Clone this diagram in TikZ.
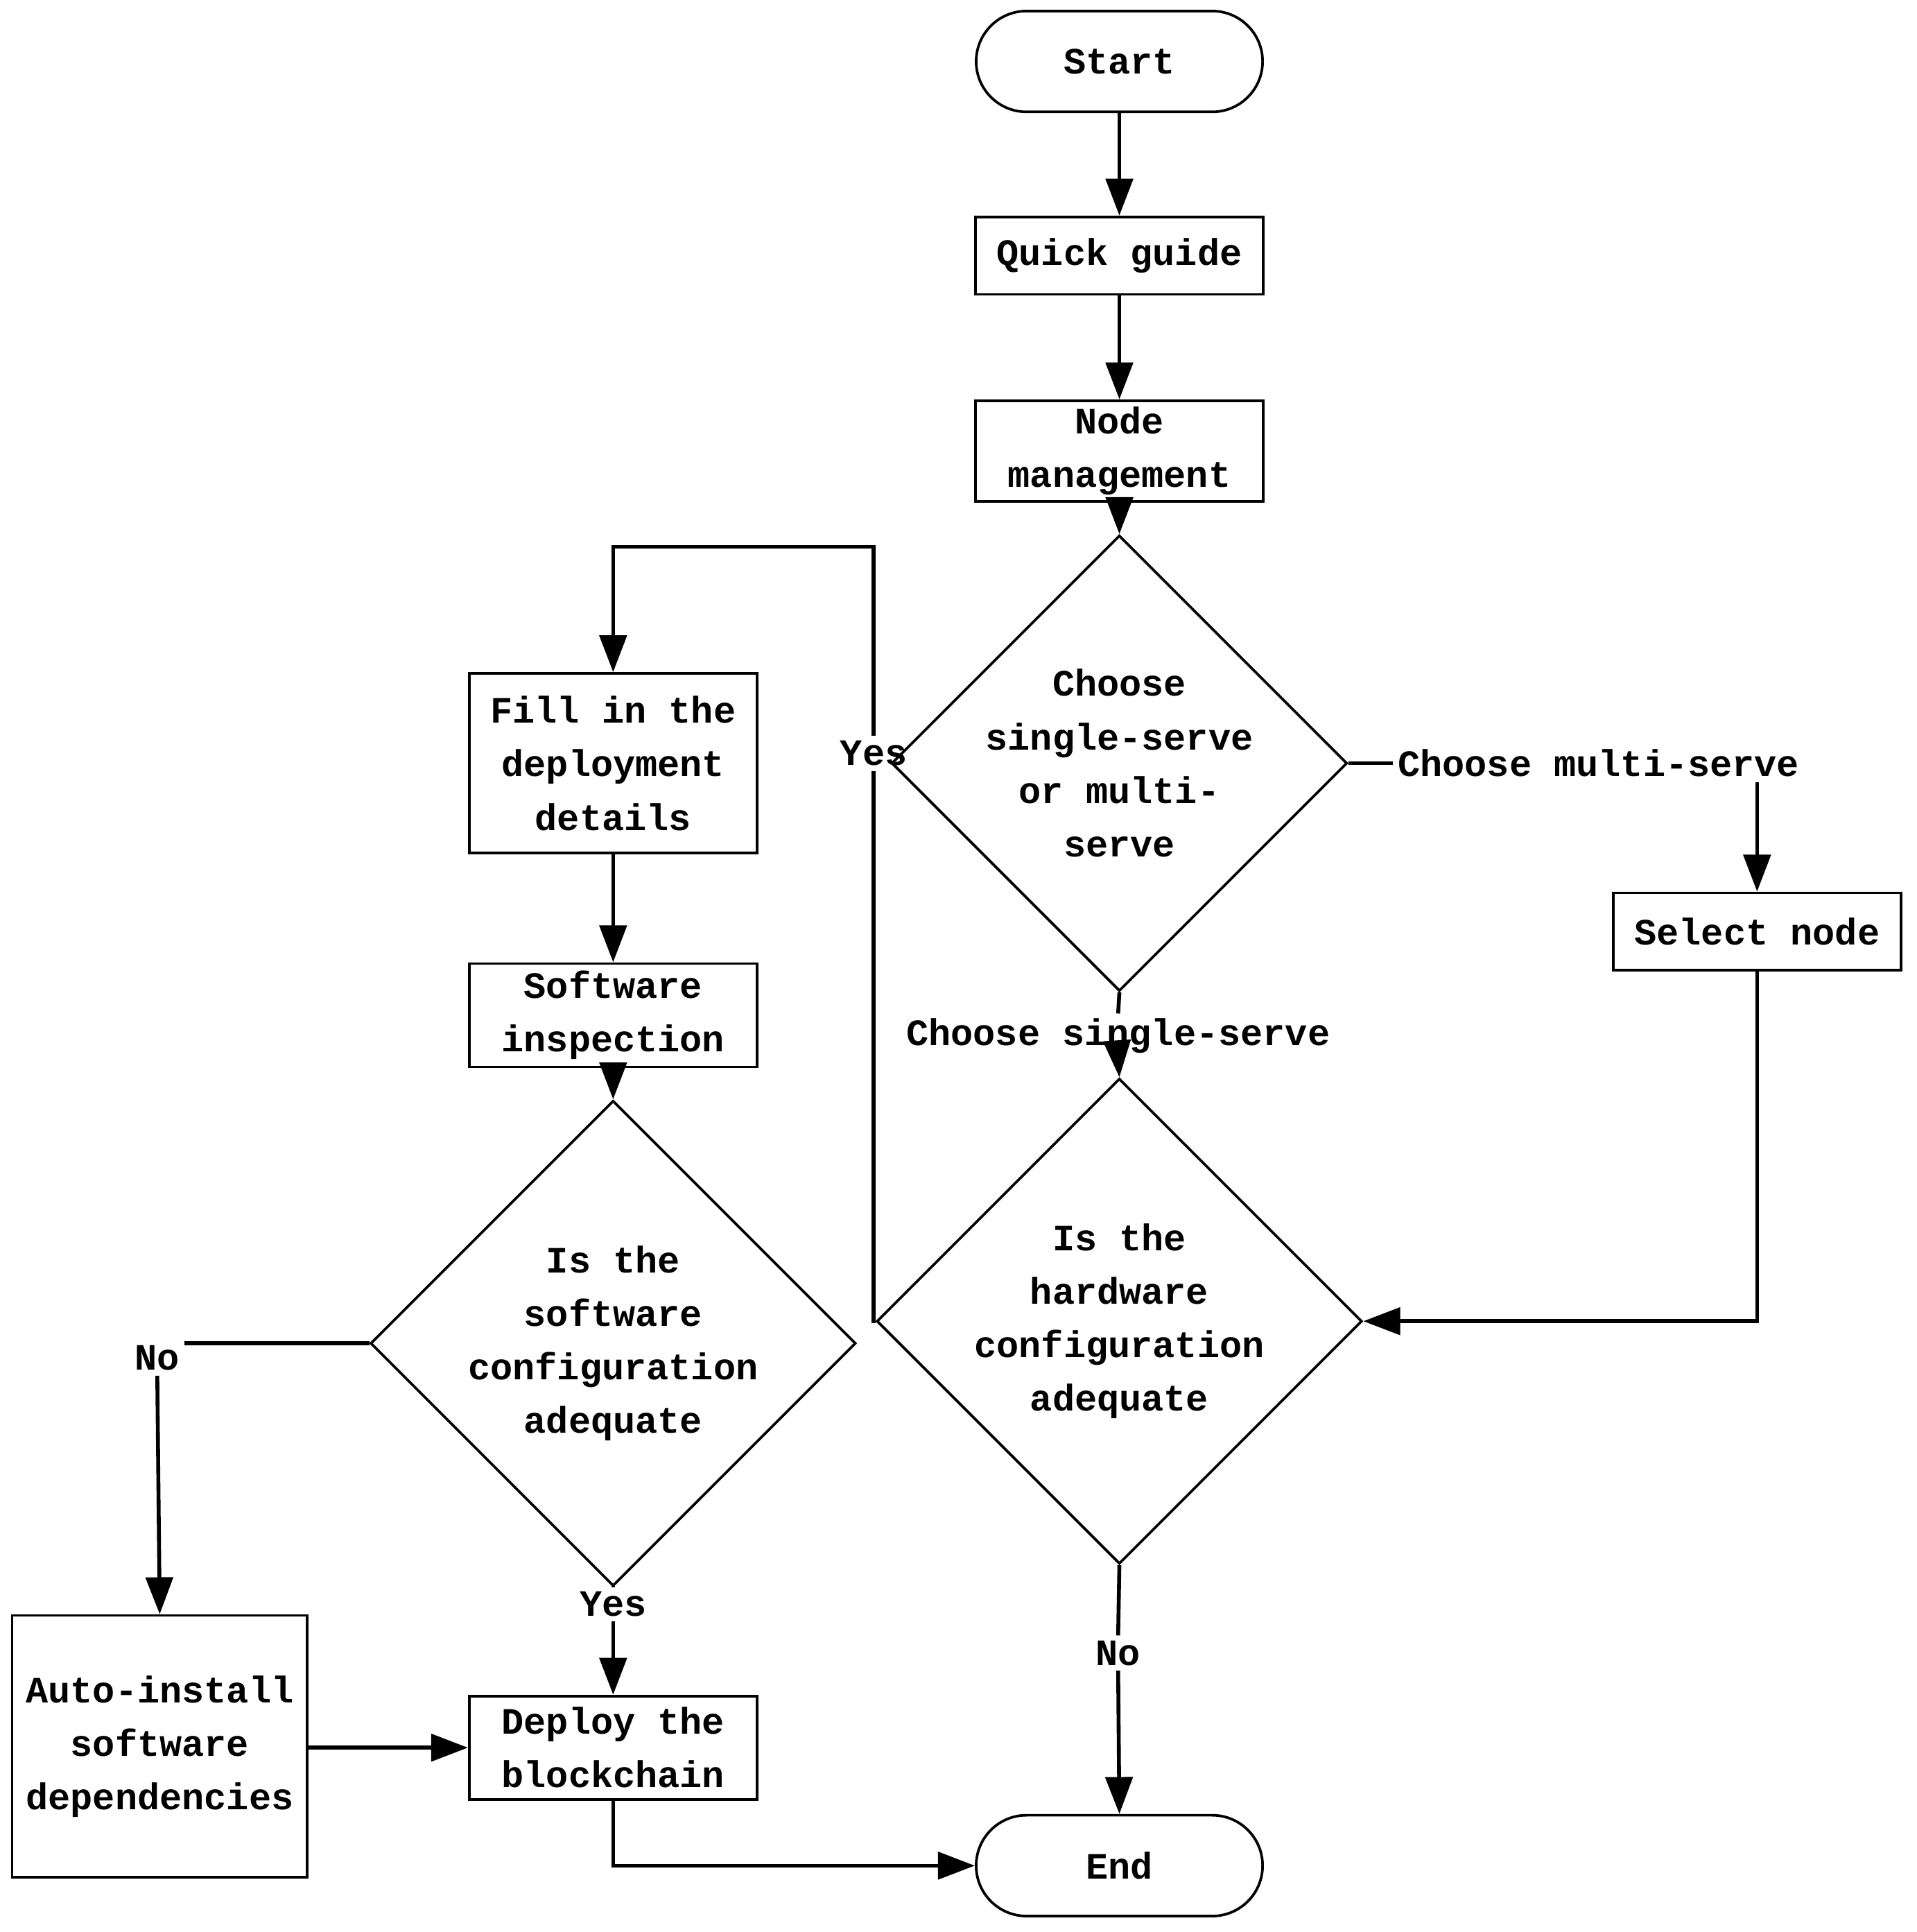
\documentclass[tikz,border=0pt]{standalone}
\usepackage{fontspec}
\setmonofont{Liberation Mono}
\usetikzlibrary{shapes.geometric,arrows.meta,positioning,calc}

\begin{document}
\begin{tikzpicture}[
    x=0.01cm, y=-0.01cm,
    font=\fontsize{8.6pt}{12.4pt}\ttfamily\bfseries,
    box/.style={draw, line width=0.6pt, minimum width=2.34cm, align=center, inner sep=1pt},
    term/.style={draw, line width=0.6pt, rounded corners=0.41cm, minimum width=2.33cm, minimum height=0.82cm},
    dec/.style={draw, diamond, line width=0.6pt, inner sep=0pt, align=center},
    lab/.style={inner sep=1pt},
    line/.style={line width=0.9pt},
    arrow/.style={line, -{Triangle[length=0.3cm, width=0.22cm]}}
]
\useasboundingbox (0,0) rectangle (1560,1572);

% Main column
\node[term] (start) at (911,50) {Start};
\node[box, minimum height=0.63cm] (guide) at (911,208) {Quick guide};
\node[box, minimum height=0.82cm] (mgmt) at (911,367) {Node\\management};
\node[dec, minimum width=3.15cm, minimum height=2.53cm] (mode) at (911,621) {Choose\\single-serve\\or multi-\\serve};
\node[dec, minimum width=3.45cm, minimum height=2.78cm] (hw) at (911,1075) {Is the\\hardware\\configuration\\adequate};
\node[term] (end) at (911,1518) {End};

% Multi-serve branch
\node[lab] (multi) at (1301,621) {Choose multi-serve};
\node[box, minimum height=0.63cm] (select) at (1430,758) {Select node};
\node[lab] (single) at (910,843) {Choose single-serve};
\node[lab] (hwno) at (910,1345) {No};
\node[lab] (hwyes) at (711,613) {Yes};

% Left column
\node[box, minimum height=1.46cm] (fill) at (499,621) {Fill in the\\deployment\\details};
\node[box, minimum height=0.84cm] (insp) at (499,826) {Software\\inspection};
\node[dec, minimum width=3.42cm, minimum height=2.73cm] (sw) at (499,1093) {Is the\\software\\configuration\\adequate};
\node[lab] (swno) at (128,1105) {No};
\node[lab] (swyes) at (499,1305) {Yes};
\node[box, minimum width=2.4cm, minimum height=2.13cm] (auto) at (130,1421) {Auto-install\\software\\dependencies};
\node[box, minimum height=0.84cm] (deploy) at (499,1422) {Deploy the\\blockchain};

\coordinate (ytop) at (711,445);
\coordinate (ftop) at (499,445);

% Connectors
\draw[arrow] (start) -- (guide);
\draw[arrow] (guide) -- (mgmt);
\draw[arrow] (mgmt) -- (mode);
\draw[line] (mode.east) -- (multi.west);
\draw[arrow] (multi.south -| select) -- (select.north);
\draw[line] (mode.south) -- (single.north);
\draw[arrow] (single.south) -- (hw.north);
\draw[arrow] (select.south) |- (hw.east);
\draw[line] (hw.west) -| (hwyes.south);
\draw[arrow] (hwyes.north) -- (ytop) -- (ftop) -- (fill.north);
\draw[line] (hw.south) -- (hwno.north);
\draw[arrow] (hwno.south) -- (end.north);
\draw[arrow] (fill) -- (insp);
\draw[arrow] (insp) -- (sw);
\draw[line] (sw.west) -- (swno.east |- sw.west);
\draw[arrow] (swno.south) -- (auto.north);
\draw[line] (sw.south) -- (swyes.north);
\draw[arrow] (swyes.south) -- (deploy.north);
\draw[arrow] (auto.east |- deploy) -- (deploy.west);
\draw[arrow] (deploy.south) |- (end.west);
\end{tikzpicture}
\end{document}
